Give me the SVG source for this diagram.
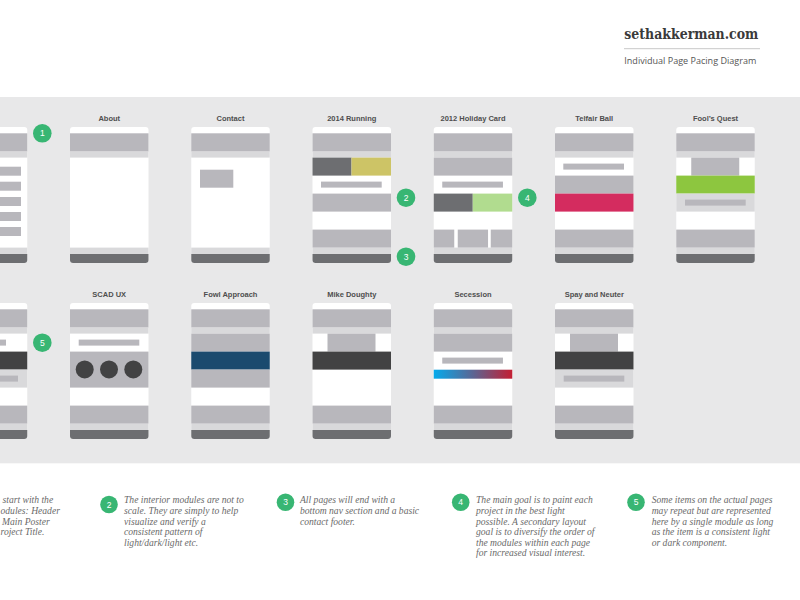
<svg xmlns="http://www.w3.org/2000/svg" width="800" height="600" viewBox="0 0 800 600">
<style>
.g{fill:#b8b7bc}
.l{fill:#d9d9db}
.d{fill:#6d6e71}
.k{fill:#424243}
.w{fill:#fff}
.lbl{font-family:"Liberation Sans",Arial,sans-serif;font-weight:bold;font-size:7.5px;fill:#4e4e4e;text-anchor:middle}
.num circle{fill:#38b673}
.num text{font-family:"Liberation Sans",Arial,sans-serif;font-size:8.5px;fill:#fff;text-anchor:middle}
.note{font-family:"Liberation Serif","Times New Roman",serif;font-style:italic;font-size:9.6px;fill:#6a6a6a}
</style>
<defs>
<linearGradient id="sec" x1="0" x2="1" y1="0" y2="0">
<stop offset="0" stop-color="#04aaec"/>
<stop offset="0.5" stop-color="#5b6593"/>
<stop offset="1" stop-color="#c41f33"/>
</linearGradient>
<g id="base">
<rect width="78.5" height="136" rx="3" class="w"/>
<rect y="6.3" width="78.5" height="18.3" class="g"/>
<rect y="24.6" width="78.5" height="6" class="l"/>
<rect y="120.6" width="78.5" height="6.5" class="l"/>
<path d="M0,127H78.5V133Q78.5,136 75.5,136H3Q0,136 0,133Z" class="d"/>
</g>
</defs>

<rect width="800" height="600" fill="#fff"/>

<g id="header">
<text x="624.3" y="39" font-family="'DejaVu Serif',serif" font-weight="bold" font-size="15.5" fill="#3a3a3a" textLength="134" lengthAdjust="spacingAndGlyphs">sethakkerman.com</text>
<line x1="624" y1="48.7" x2="760" y2="48.7" stroke="#c8c8c8" stroke-width="1"/>
<text x="624.3" y="64.3" font-family="'Open Sans',sans-serif" font-size="9.5" fill="#555" textLength="132" lengthAdjust="spacingAndGlyphs">Individual Page Pacing Diagram</text>
</g>

<rect id="band" x="0" y="97" width="800" height="366.3" fill="#e8e8e9"/>

<!-- Row 1 -->
<g id="card-r1-partial" transform="translate(-51.25,127)">
<use href="#base"/>
<rect x="6.25" y="39.7" width="66" height="9" class="g"/>
<rect x="6.25" y="54.7" width="66" height="9" class="g"/>
<rect x="6.25" y="70" width="66" height="9" class="g"/>
<rect x="6.25" y="85" width="66" height="9" class="g"/>
<rect x="6.25" y="100" width="66" height="9" class="g"/>
</g>

<g id="card-about" transform="translate(70,127)">
<text class="lbl" x="39.25" y="-6.3">About</text>
<use href="#base"/>
</g>

<g id="card-contact" transform="translate(191.25,127)">
<text class="lbl" x="39.25" y="-6.3">Contact</text>
<use href="#base"/>
<rect x="8.75" y="42.7" width="33.3" height="18" class="g"/>
</g>

<g id="card-running" transform="translate(312.5,127)">
<text class="lbl" x="39.25" y="-6.3">2014 Running</text>
<use href="#base"/>
<rect x="0" y="30.6" width="39" height="18" class="d"/>
<rect x="39" y="30.6" width="39.5" height="18" fill="#cdc466"/>
<rect x="8.5" y="54.6" width="60.7" height="6" class="g"/>
<rect x="0" y="66.6" width="78.5" height="18" class="g"/>
<rect x="0" y="102.6" width="78.5" height="18" class="g"/>
</g>

<g id="card-holiday" transform="translate(433.75,127)">
<text class="lbl" x="39.25" y="-6.3">2012 Holiday Card</text>
<use href="#base"/>
<rect x="0" y="30.6" width="78.5" height="18" class="g"/>
<rect x="8.5" y="54.6" width="60.7" height="6" class="g"/>
<rect x="0" y="66.6" width="39" height="18" class="d"/>
<rect x="39" y="66.6" width="39.5" height="18" fill="#b1dc8f"/>
<rect x="0" y="102.6" width="20.5" height="18" class="g"/>
<rect x="24" y="102.6" width="30.3" height="18" class="g"/>
<rect x="57" y="102.6" width="21.5" height="18" class="g"/>
</g>

<g id="card-telfair" transform="translate(555,127)">
<text class="lbl" x="39.25" y="-6.3">Telfair Ball</text>
<use href="#base"/>
<rect x="8.3" y="36.6" width="60.7" height="6" class="g"/>
<rect x="0" y="48.6" width="78.5" height="18" class="g"/>
<rect x="0" y="66.6" width="78.5" height="18" fill="#d42c5f"/>
<rect x="0" y="102.6" width="78.5" height="18" class="g"/>
</g>

<g id="card-fools" transform="translate(676.25,127)">
<text class="lbl" x="39.25" y="-6.3">Fool’s Quest</text>
<use href="#base"/>
<rect x="15" y="30.6" width="48" height="18" class="g"/>
<rect x="0" y="48.6" width="78.5" height="18" fill="#8dc63f"/>
<rect x="0" y="66.6" width="78.5" height="18" class="l"/>
<rect x="8.75" y="72.6" width="60.7" height="6" class="g"/>
<rect x="0" y="102.6" width="78.5" height="18" class="g"/>
</g>

<!-- Row 2 -->
<g id="card-r2-partial" transform="translate(-51.25,303)">
<use href="#base"/>
<rect x="8.5" y="36.6" width="48.75" height="6" class="g"/>
<rect x="0" y="48.6" width="78.5" height="18" class="k"/>
<rect x="0" y="66.6" width="78.5" height="18" class="l"/>
<rect x="8.5" y="72.6" width="60.75" height="6" class="g"/>
<rect x="0" y="102.6" width="78.5" height="18" class="g"/>
</g>

<g id="card-scad" transform="translate(70,303)">
<text class="lbl" x="39.25" y="-6.3">SCAD UX</text>
<use href="#base"/>
<rect x="8.7" y="36.6" width="60.6" height="6" class="g"/>
<rect x="0" y="48.6" width="78.5" height="36" class="g"/>
<circle cx="14.7" cy="66.4" r="9" class="k"/>
<circle cx="39" cy="66.4" r="9" class="k"/>
<circle cx="63.3" cy="66.4" r="9" class="k"/>
<rect x="0" y="102.6" width="78.5" height="18" class="g"/>
</g>

<g id="card-fowl" transform="translate(191.25,303)">
<text class="lbl" x="39.25" y="-6.3">Fowl Approach</text>
<use href="#base"/>
<rect x="0" y="30.6" width="78.5" height="18" class="g"/>
<rect x="0" y="48.6" width="78.5" height="18" fill="#1a4a6e"/>
<rect x="0" y="66.6" width="78.5" height="18" class="g"/>
<rect x="0" y="102.6" width="78.5" height="18" class="g"/>
</g>

<g id="card-mike" transform="translate(312.5,303)">
<text class="lbl" x="39.25" y="-6.3">Mike Doughty</text>
<use href="#base"/>
<rect x="15" y="30.6" width="48" height="18" class="g"/>
<rect x="0" y="48.6" width="78.5" height="18" class="k"/>
<rect x="0" y="102.6" width="78.5" height="18" class="g"/>
</g>

<g id="card-secession" transform="translate(433.75,303)">
<text class="lbl" x="39.25" y="-6.3">Secession</text>
<use href="#base"/>
<rect x="0" y="30.6" width="78.5" height="18" class="g"/>
<rect x="8.5" y="54.6" width="60.7" height="6" class="g"/>
<rect x="0" y="66.7" width="78.5" height="9" fill="url(#sec)"/>
<rect x="0" y="102.6" width="78.5" height="18" class="g"/>
</g>

<g id="card-spay" transform="translate(555,303)">
<text class="lbl" x="39.25" y="-6.3">Spay and Neuter</text>
<use href="#base"/>
<rect x="15" y="30.6" width="48" height="18" class="g"/>
<rect x="0" y="48.6" width="78.5" height="18" class="k"/>
<rect x="0" y="66.6" width="78.5" height="18" class="l"/>
<rect x="8.7" y="72.6" width="60.6" height="6" class="g"/>
<rect x="0" y="102.6" width="78.5" height="18" class="g"/>
</g>

<g id="connectors"></g>

<!-- numbered markers -->
<g id="marker-1" class="num"><circle cx="42.3" cy="133.3" r="9.3"/><text x="42.3" y="136.3">1</text></g>
<g id="marker-2" class="num"><circle cx="406" cy="197.7" r="9.3"/><text x="406" y="200.7">2</text></g>
<g id="marker-3" class="num"><circle cx="406" cy="256.7" r="9.3"/><text x="406" y="259.7">3</text></g>
<g id="marker-4" class="num"><circle cx="527.3" cy="197.7" r="9.3"/><text x="527.3" y="200.7">4</text></g>
<g id="marker-5" class="num"><circle cx="42.3" cy="342.7" r="9.3"/><text x="42.3" y="345.7">5</text></g>

<!-- notes -->
<g id="note-1" class="note">
<text x="2.5" y="503.3">start with the</text>
<text x="0.5" y="514">odules: Header</text>
<text x="2" y="524.6">Main Poster</text>
<text x="0.5" y="535.2">roject Title.</text>
</g>

<g id="note-2">
<g class="num"><circle cx="109" cy="504.5" r="8.8"/><text x="109" y="507.5">2</text></g>
<g class="note">
<text x="124" y="503.3">The interior modules are not to</text>
<text x="124" y="514">scale. They are simply to help</text>
<text x="124" y="524.6">visualize and verify a</text>
<text x="124" y="535.2">consistent pattern of</text>
<text x="124" y="545.8">light/dark/light etc.</text>
</g>
</g>

<g id="note-3">
<g class="num"><circle cx="285.5" cy="502.3" r="8.8"/><text x="285.5" y="505.3">3</text></g>
<g class="note">
<text x="300" y="503.3">All pages will end with a</text>
<text x="300" y="514">bottom nav section and a basic</text>
<text x="300" y="524.6">contact footer.</text>
</g>
</g>

<g id="note-4">
<g class="num"><circle cx="460.7" cy="502.3" r="8.8"/><text x="460.7" y="505.3">4</text></g>
<g class="note">
<text x="476" y="503.3">The main goal is to paint each</text>
<text x="476" y="514">project in the best light</text>
<text x="476" y="524.6">possible. A secondary layout</text>
<text x="476" y="535.2">goal is to diversify the order of</text>
<text x="476" y="545.8">the modules within each page</text>
<text x="476" y="556.4">for increased visual interest.</text>
</g>
</g>

<g id="note-5">
<g class="num"><circle cx="636" cy="502.3" r="8.8"/><text x="636" y="505.3">5</text></g>
<g class="note">
<text x="651.7" y="503.3">Some items on the actual pages</text>
<text x="651.7" y="514">may repeat but are represented</text>
<text x="651.7" y="524.6">here by a single module as long</text>
<text x="651.7" y="535.2">as the item is a consistent light</text>
<text x="651.7" y="545.8">or dark component.</text>
</g>
</g>
</svg>
